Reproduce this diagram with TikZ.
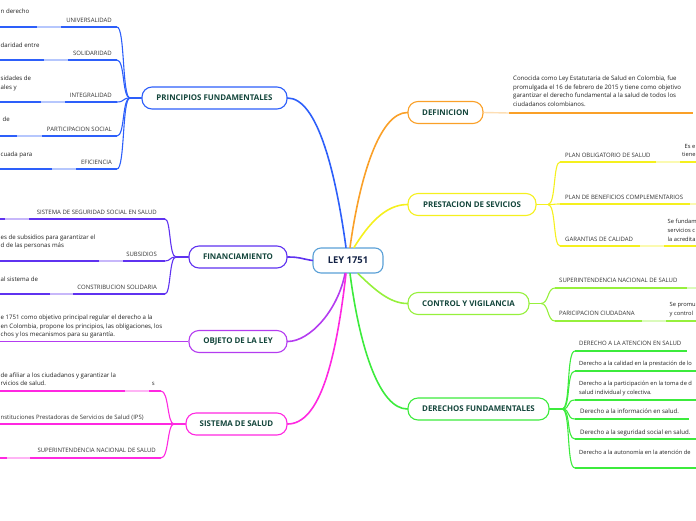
\documentclass[tikz,border=0pt]{standalone}
\usepackage{fontspec}
\setmainfont{Open Sans}
\usetikzlibrary{calc}
\definecolor{cblue}{RGB}{45,95,250}
\definecolor{cindigo}{RGB}{95,50,240}
\definecolor{cpurple}{RGB}{180,60,240}
\definecolor{cmagenta}{RGB}{255,40,225}
\definecolor{corange}{RGB}{250,160,40}
\definecolor{cyellow}{RGB}{245,240,30}
\definecolor{clime}{RGB}{150,240,60}
\definecolor{cgreen}{RGB}{60,235,60}
\definecolor{cring}{RGB}{90,160,215}
\definecolor{maintext}{RGB}{20,70,60}
\definecolor{centertext}{RGB}{20,35,70}
\definecolor{lbltext}{RGB}{50,50,50}
\definecolor{desctext}{RGB}{30,30,30}
\tikzset{
  mainnode/.style={draw, rounded corners=10pt, line width=1.1pt, fill=white,
    font=\fontsize{7.9}{9}\selectfont\bfseries, text=maintext,
    minimum height=22pt, inner sep=0pt},
  centernode/.style={draw=cring, rounded corners=8pt, line width=1.1pt, fill=white,
    font=\fontsize{9.4}{10}\selectfont\bfseries, text=centertext,
    minimum width=70pt, minimum height=25pt, inner sep=0pt},
  lbl/.style={font=\fontsize{6.0}{8}\selectfont, text=lbltext, inner sep=0pt},
  desc/.style={font=\fontsize{6.1}{8.8}\selectfont, text=desctext, inner sep=0pt},
  descsm/.style={font=\fontsize{5.75}{8.8}\selectfont, text=desctext, inner sep=0pt},
  branch/.style={line width=1.6pt, line cap=round},
  hub/.style={line width=1.1pt, line cap=round},
  under/.style={line width=1.4pt},
}
\begin{document}
\begin{tikzpicture}[x=1pt,y=-1pt]
\useasboundingbox (0,0) rectangle (696,520);
\clip (0,0) rectangle (696,520);

% ---------- main nodes ----------
\node[centernode] (C) at (348,260.5) {LEY 1751};
\node[mainnode, draw=cblue, minimum width=145pt] (PF) at (214.5,98) {PRINCIPIOS FUNDAMENTALES};
\node[mainnode, draw=cindigo, minimum width=98pt] (FIN) at (238,257) {FINANCIAMIENTO};
\node[mainnode, draw=cpurple, minimum width=98pt] (OBJ) at (238,341.5) {OBJETO DE LA LEY};
\node[mainnode, draw=cmagenta, minimum width=101pt] (SIS) at (236.5,424) {SISTEMA DE SALUD};
\node[mainnode, draw=corange, minimum width=75pt] (DEF) at (445.5,112.5) {DEFINICION};
\node[mainnode, draw=cyellow, minimum width=128pt] (PRE) at (472,204.5) {PRESTACION DE SEVICIOS};
\node[mainnode, draw=clime, minimum width=121pt] (CON) at (468.5,303.5) {CONTROL Y VIGILANCIA};
\node[mainnode, draw=cgreen, minimum width=141pt] (DER) at (478.5,409) {DERECHOS FUNDAMENTALES};

% ---------- central branches ----------
\draw[branch, cblue] ($(C.north)+(-2,0)$) .. controls (336,175) and (318,98) .. (PF.east);
\draw[branch, corange] ($(C.north)+(2,0)$) .. controls (360,175) and (380,112.5) .. (DEF.west);
\draw[branch, cyellow] ($(C.north)+(6,0)$) .. controls (368,225) and (385,204.5) .. (PRE.west);
\draw[branch, cindigo] (C.west) .. controls (300,258.5) and (300,257) .. (FIN.east);
\draw[branch, cpurple] ($(C.south)+(-3,0)$) .. controls (338,310) and (310,341.5) .. (OBJ.east);
\draw[branch, cmagenta] ($(C.south)+(-2,0)$) .. controls (336,360) and (320,424) .. (SIS.east);
\draw[branch, cgreen] ($(C.south)+(2,0)$) .. controls (360,350) and (380,409) .. (DER.west);
\draw[branch, clime] ($(C.south)+(10,0)$) .. controls (375,290) and (390,303.5) .. (CON.west);

% ---------- PRINCIPIOS FUNDAMENTALES ----------
\coordinate (pfh) at (130,98);
\draw[hub, cblue] (PF.west) -- (pfh);
\foreach \y/\a/\b in {27/37/61, 60/44/68, 102/41/65, 136/17/42, 169/52/76}{
  \draw[hub, cblue] (pfh) .. controls (122,98) and (125,\y) .. (117,\y);
  \draw[under, cblue] (117,\y) -- (\b,\y);
  \draw[under, cblue!35] (\b,\y) -- (\a,\y);
  \draw[under, cblue] (\a,\y) -- (0,\y);
}
\node[lbl, anchor=base east] (pf1) at (112,22) {UNIVERSALIDAD};
\node[lbl, anchor=base east] (pf2) at (112,55) {SOLIDARIDAD};
\node[lbl, anchor=base east] (pf3) at (112,97) {INTEGRALIDAD};
\node[lbl, anchor=base east] (pf4) at (112,131) {PARTICIPACION SOCIAL};
\node[lbl, anchor=base east] (pf5) at (112,164) {EFICIENCIA};
\node[desc, anchor=base west] (pd1) at (0.5,13) {n derecho};
\node[desc, anchor=base west] (pd2) at (0.5,47) {daridad entre};
\node[desc, anchor=base west] (pd3) at (0.5,80) {sidades de};
\node[desc, anchor=base west] (pd3b) at (0.5,89) {ales y};
\node[desc, anchor=base west] (pd4) at (2.5,121) {de};
\node[desc, anchor=base west] (pd5) at (0.5,156) {cuada para};

% ---------- FINANCIAMIENTO ----------
\coordinate (finh) at (176,257);
\draw[hub, cindigo] (FIN.west) -- (finh);
\foreach \y/\a/\b in {219/5/29, 261/99/123, 294/50/73}{
  \draw[hub, cindigo] (finh) .. controls (169,257) and (171,\y) .. (165,\y);
  \draw[under, cindigo] (165,\y) -- (\b,\y);
  \draw[under, cindigo!35] (\b,\y) -- (\a,\y);
  \draw[under, cindigo] (\a,\y) -- (0,\y);
}
\node[lbl, anchor=base east] (fi1) at (157,214) {SISTEMA DE SEGURIDAD SOCIAL EN SALUD};
\node[lbl, anchor=base east] (fi2) at (157,256) {SUBSIDIOS};
\node[lbl, anchor=base east] (fi3) at (157,289) {CONSTRIBUCION SOLIDARIA};
\node[desc, anchor=base west] (fd2) at (0.5,239) {es de subsidios para garantizar el};
\node[desc, anchor=base west] (fd2b) at (0.5,247) {d de las personas más};
\node[desc, anchor=base west] (fd3) at (0.5,281) {al sistema de};

% ---------- OBJETO DE LA LEY ----------
\coordinate (objl) at (163,341.5);
\draw[under, cpurple] (OBJ.west) -- (objl) -- (0,341.5);
\node[desc, anchor=base west] (od1) at (0.5,319) {e 1751 como objetivo principal regular el derecho a la};
\node[desc, anchor=base west] (od2) at (0.5,328) {en Colombia, propone los principios, las obligaciones, los};
\node[desc, anchor=base west] (od3) at (0.5,336.5) {chos y los mecanismos para su garantía.};

% ---------- SISTEMA DE SALUD ----------
\coordinate (sish) at (174,424);
\draw[hub, cmagenta] (SIS.west) -- (sish);
\foreach \y/\a/\b in {391/125/149, 424/100/100, 458/7/30}{
  \draw[hub, cmagenta] (sish) .. controls (167,424) and (169,\y) .. (161,\y);
  \draw[under, cmagenta] (161,\y) -- (\b,\y);
  \draw[under, cmagenta!35] (\b,\y) -- (\a,\y);
  \draw[under, cmagenta] (\a,\y) -- (0,\y);
}
\node[lbl, anchor=base east] (si1) at (155,385) {s};
\node[lbl, anchor=base west] (si2) at (0.5,419) {nstituciones Prestadoras de Servicios de Salud (IPS)};
\node[lbl, anchor=base east] (si3) at (156,452) {SUPERINTENDENCIA NACIONAL DE SALUD};
\node[desc, anchor=base west] (sd1) at (0.5,377) {de afiliar a los ciudadanos y garantizar la};
\node[desc, anchor=base west] (sd1b) at (0.5,385) {rvicios de salud.};

% ---------- DEFINICION ----------
\coordinate (defl) at (509,113);
\draw[under, corange!35] (DEF.east) -- (defl);
\draw[under, corange] (defl) -- (693,113);
\node[desc, anchor=north west, align=left] (dd) at (513,75.5)
  {Conocida como Ley Estatutaria de Salud en Colombia, fue\\
   promulgada el 16 de febrero de 2015 y tiene como objetivo\\
   garantizar el derecho fundamental a la salud de todos los\\
   ciudadanos colombianos.};

% ---------- PRESTACION DE SEVICIOS ----------
\coordinate (preh) at (548,204.5);
\draw[hub, cyellow] (PRE.east) -- (preh);
\foreach \y/\a/\b/\c in {162/656/680/696, 204/690/696/696, 246/640/664/696}{
  \draw[hub, cyellow] (preh) .. controls (556,204.5) and (553,\y) .. (560,\y);
  \draw[under, cyellow] (560,\y) -- (\a,\y);
  \draw[under, cyellow!35] (\a,\y) -- (\b,\y);
  \draw[under, cyellow] (\b,\y) -- (\c,\y);
}
\node[lbl, anchor=base west] (pr1) at (565,157) {PLAN OBLIGATORIO DE SALUD};
\node[lbl, anchor=base west] (pr2) at (565,199) {PLAN DE BENEFICIOS COMPLEMENTARIOS};
\node[lbl, anchor=base west] (pr3) at (565,241) {GARANTIAS DE CALIDAD};
\node[descsm, anchor=base west] (prd1) at (684.5,148) {Es e};
\node[descsm, anchor=base west] (prd1b) at (682,156) {tiene};
\node[descsm, anchor=base west] (prd3) at (667.5,223) {Se fundam};
\node[descsm, anchor=base west] (prd3b) at (667.5,232) {servicios c};
\node[descsm, anchor=base west] (prd3c) at (667.5,241) {la acredita};

% ---------- CONTROL Y VIGILANCIA ----------
\coordinate (conh) at (541,303.5);
\draw[hub, clime] (CON.east) -- (conh);
\foreach \y/\a/\b/\c in {288/687/696/696, 321/642/666/696}{
  \draw[hub, clime] (conh) .. controls (549,303.5) and (547,\y) .. (555,\y);
  \draw[under, clime] (555,\y) -- (\a,\y);
  \draw[under, clime!35] (\a,\y) -- (\b,\y);
  \draw[under, clime] (\b,\y) -- (\c,\y);
}
\node[lbl, anchor=base west] (co1) at (559,282) {SUPERINTENDENCIA NACIONAL DE SALUD};
\node[lbl, anchor=base west] (co2) at (559,315) {PARICIPACION CIUDADANA};
\node[descsm, anchor=base west] (cod2) at (669.5,306) {Se promu};
\node[descsm, anchor=base west] (cod2b) at (669.5,315) {y control};

% ---------- DERECHOS FUNDAMENTALES ----------
\coordinate (derh) at (562,409);
\draw[hub, cgreen] (DER.east) -- (derh);
\foreach \y/\e in {351/687, 371/696, 400/696, 419/689, 439/696, 468/696}{
  \draw[hub, cgreen] (derh) .. controls (571,409) and (566,\y) .. (575,\y);
  \draw[under, cgreen] (575,\y) -- (\e,\y);
}
\node[lbl, anchor=base west] (de1) at (579,345) {DERECHO A LA ATENCION EN SALUD};
\node[descsm, anchor=base west] (de2) at (579,365) {Derecho a la calidad en la prestación de lo};
\node[descsm, anchor=base west] (de3) at (579,385) {Derecho a la participación en la toma de d};
\node[descsm, anchor=base west] (de3b) at (579,394) {salud individual y colectiva.};
\node[desc, anchor=base west] (de4) at (580,413) {Derecho a la información en salud.};
\node[desc, anchor=base west] (de5) at (580,434) {Derecho a la seguridad social en salud.};
\node[descsm, anchor=base west] (de6) at (579,454) {Derecho a la autonomía en la atención de};
\end{tikzpicture}
\end{document}
